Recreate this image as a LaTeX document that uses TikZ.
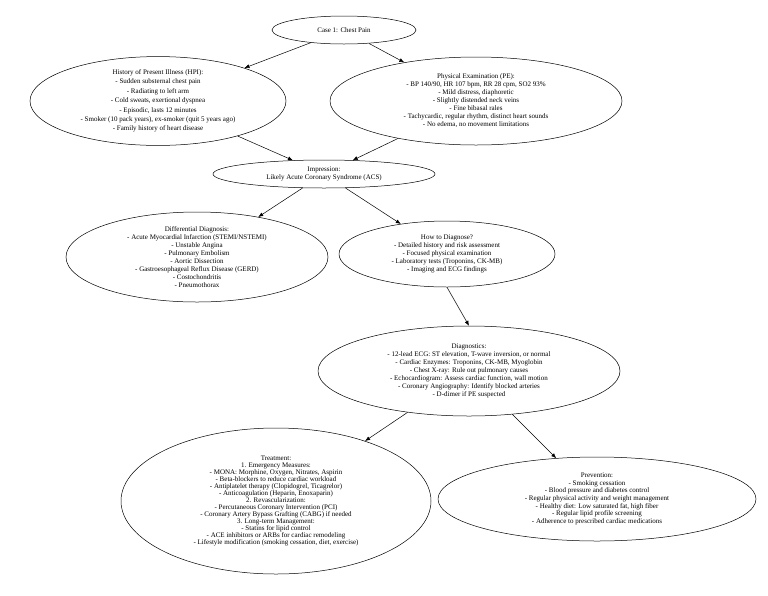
\documentclass[tikz,border=0pt]{standalone}
\usepackage{fontspec}
\setmainfont{Liberation Serif}
\usetikzlibrary{shapes.geometric,arrows.meta}
\begin{document}
\begin{tikzpicture}[x=1pt,y=-1pt,
  el/.style={ellipse,draw,line width=0.5pt,inner sep=0pt,align=center,font=\fontsize{7}{#1}\selectfont},
  el/.default=8,
  conn/.style={-{Latex[length=5pt,width=4pt]},line width=0.5pt}]
\useasboundingbox (0,0) rectangle (768,595);
\node[el=8,minimum width=144,minimum height=28] (case) at (344,30) {Case 1: Chest Pain};
\node[el=9.4,minimum width=256,minimum height=88] (hpi) at (158,101) {History of Present Illness (HPI):\\- Sudden substernal chest pain\\- Radiating to left arm\\- Cold sweats, exertional dyspnea\\- Episodic, lasts 12 minutes\\- Smoker (10 pack years), ex-smoker (quit 5 years ago)\\- Family history of heart disease};
\node[el=8,minimum width=292,minimum height=88] (pe) at (476,101) {Physical Examination (PE):\\- BP 140/90, HR 107 bpm, RR 28 cpm, SO2 93\%\\- Mild distress, diaphoretic\\- Slightly distended neck veins\\- Fine bibasal rales\\- Tachycardic, regular rhythm, distinct heart sounds\\- No edema, no movement limitations};
\node[el=8,minimum width=222,minimum height=28] (imp) at (324,174) {Impression:\\Likely Acute Coronary Syndrome (ACS)};
\node[el=8,minimum width=262,minimum height=90] (ddx) at (197,257) {Differential Diagnosis:\\- Acute Myocardial Infarction (STEMI/NSTEMI)\\- Unstable Angina\\- Pulmonary Embolism\\- Aortic Dissection\\- Gastroesophageal Reflux Disease (GERD)\\- Costochondritis\\- Pneumothorax};
\node[el=8,minimum width=216,minimum height=66] (how) at (447,254) {How to Diagnose?\\- Detailed history and risk assessment\\- Focused physical examination\\- Laboratory tests (Troponins, CK-MB)\\- Imaging and ECG findings};
\node[el=8,minimum width=302,minimum height=90] (dx) at (469,371) {Diagnostics:\\- 12-lead ECG: ST elevation, T-wave inversion, or normal\\- Cardiac Enzymes: Troponins, CK-MB, Myoglobin\\- Chest X-ray: Rule out pulmonary causes\\- Echocardiogram: Assess cardiac function, wall motion\\- Coronary Angiography: Identify blocked arteries\\- D-dimer if PE suspected};
\node[el=7,minimum width=310,minimum height=146] (tx) at (276,501) {Treatment:\\1. Emergency Measures:\\- MONA: Morphine, Oxygen, Nitrates, Aspirin\\- Beta-blockers to reduce cardiac workload\\- Antiplatelet therapy (Clopidogrel, Ticagrelor)\\- Anticoagulation (Heparin, Enoxaparin)\\2. Revascularization:\\- Percutaneous Coronary Intervention (PCI)\\- Coronary Artery Bypass Grafting (CABG) if needed\\3. Long-term Management:\\- Statins for lipid control\\- ACE inhibitors or ARBs for cardiac remodeling\\- Lifestyle modification (smoking cessation, diet, exercise)};
\node[el=7.6,minimum width=318,minimum height=84] (prev) at (597,499) {Prevention:\\- Smoking cessation\\- Blood pressure and diabetes control\\- Regular physical activity and weight management\\- Healthy diet: Low saturated fat, high fiber\\- Regular lipid profile screening\\- Adherence to prescribed cardiac medications};
\draw[conn] (case) -- (hpi);
\draw[conn] (case) -- (pe);
\draw[conn] (hpi) -- (imp);
\draw[conn] (pe) -- (imp);
\draw[conn] (imp) -- (ddx);
\draw[conn] (imp) -- (how);
\draw[conn] (how.south) -- (dx.north);
\draw[conn] (dx) -- (tx);
\draw[conn] (dx) -- (prev);
\end{tikzpicture}
\end{document}
